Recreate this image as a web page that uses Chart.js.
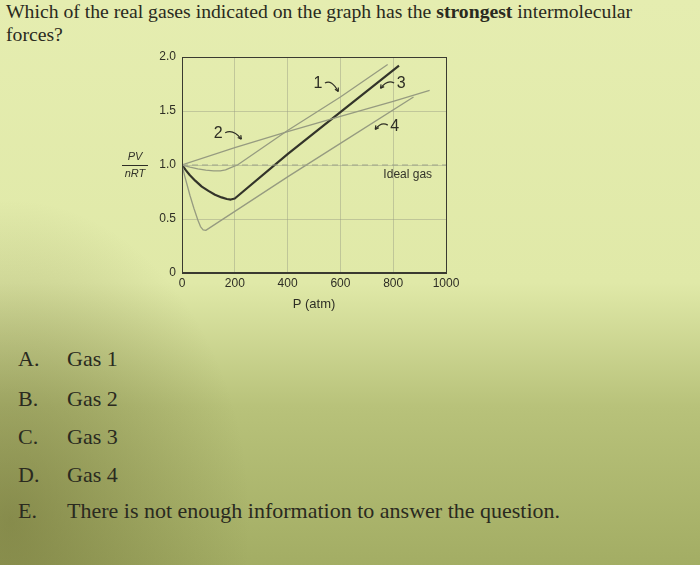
<!DOCTYPE html>
<html lang="en">
<head>
<meta charset="UTF-8">
<title>Real gases PV/nRT</title>
<script src="https://cdn.jsdelivr.net/npm/chart.js"></script>
<style>
    html, body { margin: 0; padding: 0; }
    body {
        width: 700px; height: 565px; overflow: hidden; position: relative;
        background:
            radial-gradient(ellipse 240px 320px at 10px 520px, rgba(100,100,45,0.5), rgba(100,100,45,0) 100%),
            linear-gradient(180deg, #e5edb0 0%, #e0e9a8 50%, #b8c27a 72%, #a3ad64 100%);
        font-family: "Liberation Serif", "Times New Roman", serif;
        color: #2a2a20;
    }
    .q { position: absolute; left: 6px; top: 0px; font-size: 19.7px; line-height: 23px; width: 694px; white-space: nowrap; }
    .opt { position: absolute; left: 18px; font-size: 22px; }
    .opt span { position: absolute; left: 49px; white-space: nowrap; }
    #wrap { position: absolute; left: 100px; top: 40px; width: 370px; height: 272px; }
</style>
</head>
<body>
<div class="q">Which of the real gases indicated on the graph has the <b>strongest</b> intermolecular<br>forces?</div>

<div id="wrap"><canvas id="gasChart"></canvas></div>

<div class="opt" style="top:346px">A.<span>Gas 1</span></div>
<div class="opt" style="top:386px">B.<span>Gas 2</span></div>
<div class="opt" style="top:424px">C.<span>Gas 3</span></div>
<div class="opt" style="top:462px">D.<span>Gas 4</span></div>
<div class="opt" style="top:498px">E.<span>There is not enough information to answer the question.</span></div>

<script>
    // values: P (atm) and PV/nRT
    const gas1P = [0, 30, 60, 90, 120, 145, 165, 185, 210, 400, 600, 779];
    const gas1Z = [1.0, 0.98, 0.965, 0.952, 0.945, 0.945, 0.955, 0.975, 1.0, 1.32, 1.63, 1.93];

    const gas2P = [0, 200, 400, 600, 800, 938];
    const gas2Z = [1.0, 1.16, 1.31, 1.45, 1.59, 1.69];

    const gas3P = [0, 15, 30, 50, 75, 100, 125, 150, 170, 185, 200, 400, 600, 822];
    const gas3Z = [1.0, 0.95, 0.905, 0.855, 0.8, 0.76, 0.725, 0.7, 0.685, 0.68, 0.69, 1.1, 1.49, 1.92];

    const gas4P = [0, 10, 20, 30, 45, 60, 70, 80, 90, 400, 600, 877];
    const gas4Z = [1.0, 0.9, 0.81, 0.72, 0.6, 0.49, 0.43, 0.4, 0.395, 0.89, 1.2, 1.63];

    const idealP = [0, 1000];
    const idealZ = [1.0, 1.0];

    const xTicks = [0, 200, 400, 600, 800, 1000];
    const yTicks = [0, 0.5, 1.0, 1.5, 2.0];

    // curve labels: text, label position, arrow tip
    const labelText = ['1', '2', '3', '4'];
    const labelAt = [[515, 1.75], [137, 1.29], [830, 1.75], [806, 1.36]];
    const arrowTip = [[592, 1.68], [225, 1.24], [752, 1.71], [732, 1.33]];

    const pts = (xs, ys) => xs.map((x, i) => ({ x: x, y: ys[i] }));

    const grey = '#969b80';

    const extras = {
        id: 'extras',
        afterDatasetsDraw(chart) {
            const { ctx, chartArea: a, scales: { x, y } } = chart;
            ctx.save();
            // frame
            ctx.strokeStyle = '#3a3a30';
            ctx.lineWidth = 1;
            ctx.strokeRect(a.left + 0.5, a.top + 0.5, a.right - a.left, a.bottom - a.top);
            ctx.lineWidth = 2;
            ctx.beginPath();
            ctx.moveTo(a.left, a.bottom);
            ctx.lineTo(a.right, a.bottom);
            ctx.stroke();

            // labels with little curved arrows
            ctx.fillStyle = '#2e2e25';
            ctx.font = '16px "Liberation Sans", Arial, sans-serif';
            ctx.textAlign = 'center';
            ctx.textBaseline = 'middle';
            labelText.forEach((t, i) => {
                const lx = x.getPixelForValue(labelAt[i][0]);
                const ly = y.getPixelForValue(labelAt[i][1]);
                const tx = x.getPixelForValue(arrowTip[i][0]);
                const ty = y.getPixelForValue(arrowTip[i][1]);
                ctx.fillText(t, lx, ly);
                const dir = tx > lx ? 1 : -1;
                const sx = lx + dir * 7;
                const sy = ly - 1;
                ctx.strokeStyle = '#2e2e25';
                ctx.lineWidth = 1.2;
                ctx.beginPath();
                ctx.moveTo(sx, sy);
                ctx.quadraticCurveTo((sx + tx) / 2, sy - 4, tx, ty);
                ctx.stroke();
                const ang = Math.atan2(ty - (sy - 4), tx - (sx + tx) / 2);
                ctx.beginPath();
                ctx.moveTo(tx, ty);
                ctx.lineTo(tx - 4 * Math.cos(ang - 0.5), ty - 4 * Math.sin(ang - 0.5));
                ctx.moveTo(tx, ty);
                ctx.lineTo(tx - 4 * Math.cos(ang + 0.5), ty - 4 * Math.sin(ang + 0.5));
                ctx.stroke();
            });

            ctx.font = '12px "Liberation Sans", Arial, sans-serif';
            ctx.fillStyle = '#33332a';
            ctx.fillText('Ideal gas', x.getPixelForValue(855), y.getPixelForValue(0.91));

            // y axis title as a fraction
            ctx.font = 'italic 11px "Liberation Sans", Arial, sans-serif';
            const fx = 35, fy = y.getPixelForValue(1.0);
            ctx.fillText('PV', fx, fy - 8);
            ctx.fillText('nRT', fx, fy + 9);
            ctx.lineWidth = 1;
            ctx.beginPath();
            ctx.moveTo(fx - 13, fy + 0.5);
            ctx.lineTo(fx + 13, fy + 0.5);
            ctx.stroke();
            ctx.restore();
        }
    };

    const tickFont = { size: 12, family: '"Liberation Sans", Arial, sans-serif' };

    new Chart(document.getElementById('gasChart'), {
        type: 'line',
        data: {
            datasets: [
                { label: 'Ideal gas', data: pts(idealP, idealZ), borderColor: '#9ea38a', borderWidth: 1.2, borderDash: [6, 4] },
                { label: 'Gas 2', data: pts(gas2P, gas2Z), borderColor: grey, borderWidth: 1.3 },
                { label: 'Gas 1', data: pts(gas1P, gas1Z), borderColor: grey, borderWidth: 1.3 },
                { label: 'Gas 4', data: pts(gas4P, gas4Z), borderColor: grey, borderWidth: 1.3 },
                { label: 'Gas 3', data: pts(gas3P, gas3Z), borderColor: '#33342a', borderWidth: 2.2 }
            ]
        },
        options: {
            responsive: true,
            maintainAspectRatio: false,
            animation: false,
            events: [],
            elements: { point: { radius: 0 }, line: { tension: 0, borderJoinStyle: 'round' } },
            layout: { padding: { top: 17, right: 24, left: 0, bottom: 0 } },
            plugins: { legend: { display: false }, tooltip: { enabled: false } },
            scales: {
                x: {
                    type: 'linear', min: 0, max: 1000,
                    afterBuildTicks: axis => { axis.ticks = xTicks.map(v => ({ value: v })); },
                    afterFit: axis => { axis.height = 39; },
                    grid: { color: 'rgba(150,155,130,0.45)', drawTicks: false },
                    border: { display: false },
                    ticks: { color: '#2e2e25', padding: 3, font: tickFont, callback: v => String(v) },
                    title: { display: true, text: 'P (atm)', color: '#2e2e25', padding: 0, font: { size: 13, family: '"Liberation Sans", Arial, sans-serif' } }
                },
                y: {
                    min: 0, max: 2.0,
                    afterBuildTicks: axis => { axis.ticks = yTicks.map(v => ({ value: v })); },
                    afterFit: axis => { axis.width = 82; },
                    grid: { color: 'rgba(150,155,130,0.45)', drawTicks: false },
                    border: { display: false },
                    ticks: {
                        color: '#2e2e25', padding: 6, font: tickFont,
                        callback: v => v === 0 ? '0' : v.toFixed(1)
                    }
                }
            }
        },
        plugins: [extras]
    });
</script>
</body>
</html>
